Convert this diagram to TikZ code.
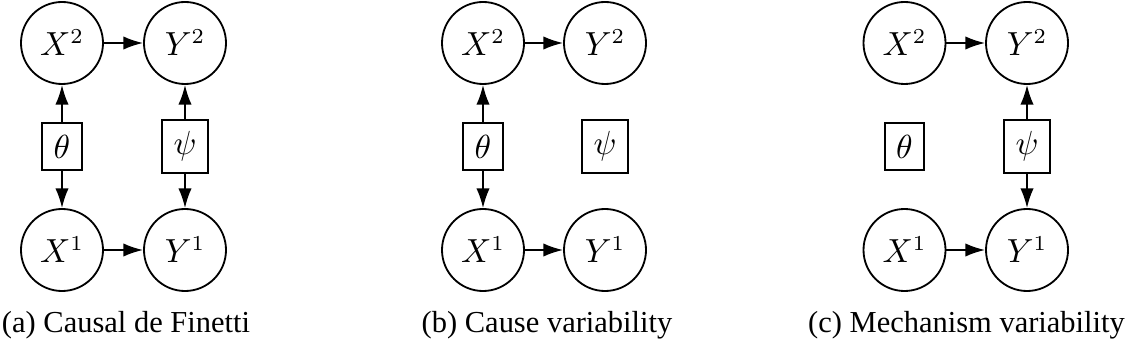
\documentclass[tikz,border=0pt]{standalone}
\usepackage{fontspec}
\setmainfont{Liberation Serif}
\usetikzlibrary{arrows.meta}
\begin{document}
\begin{tikzpicture}[x=0.328pt,y=-0.328pt,
  var/.style={circle,draw,line width=0.6pt,minimum size=26.9pt,inner sep=0pt,font=\fontsize{10.5}{12}\selectfont},
  par/.style={rectangle,draw,line width=0.6pt,inner sep=3.8pt,font=\fontsize{10.5}{12}\selectfont},
  edge/.style={-{Latex[length=6.5pt,width=4.4pt]},line width=0.6pt},
  captext/.style={anchor=base,font=\fontsize{10}{12}\selectfont}]
\useasboundingbox (0,0) rectangle (1132,347);
% (a)
\node[var] (aX2) at (62,43) {$X^2$};
\node[var] (aY2) at (185,43) {$Y^2$};
\node[var] (aX1) at (62,250) {$X^1$};
\node[var] (aY1) at (185,250) {$Y^1$};
\node[par] (at) at (62,146.5) {$\theta$};
\node[par] (ap) at (185,146.5) {$\psi$};
\draw[edge] (aX2) -- (aY2);
\draw[edge] (aX1) -- (aY1);
\draw[edge] (at) -- (aX2);
\draw[edge] (at) -- (aX1);
\draw[edge] (ap) -- (aY2);
\draw[edge] (ap) -- (aY1);
\node[captext] (acap) at (126,332.5) {(a) Causal de Finetti};
% (b)
\node[var] (bX2) at (483,43) {$X^2$};
\node[var] (bY2) at (605,43) {$Y^2$};
\node[var] (bX1) at (483,250) {$X^1$};
\node[var] (bY1) at (605,250) {$Y^1$};
\node[par] (bt) at (483,146.5) {$\theta$};
\node[par] (bp) at (605,146.5) {$\psi$};
\draw[edge] (bX2) -- (bY2);
\draw[edge] (bX1) -- (bY1);
\draw[edge] (bt) -- (bX2);
\draw[edge] (bt) -- (bX1);
\node[captext] (bcap) at (547,332.5) {(b) Cause variability};
% (c)
\node[var] (cX2) at (904.5,43) {$X^2$};
\node[var] (cY2) at (1027,43) {$Y^2$};
\node[var] (cX1) at (904.5,250) {$X^1$};
\node[var] (cY1) at (1027,250) {$Y^1$};
\node[par] (ct) at (904.5,146.5) {$\theta$};
\node[par] (cp) at (1027,146.5) {$\psi$};
\draw[edge] (cX2) -- (cY2);
\draw[edge] (cX1) -- (cY1);
\draw[edge] (cp) -- (cY2);
\draw[edge] (cp) -- (cY1);
\node[captext] (ccap) at (966.5,332.5) {(c) Mechanism variability};
\end{tikzpicture}
\end{document}
